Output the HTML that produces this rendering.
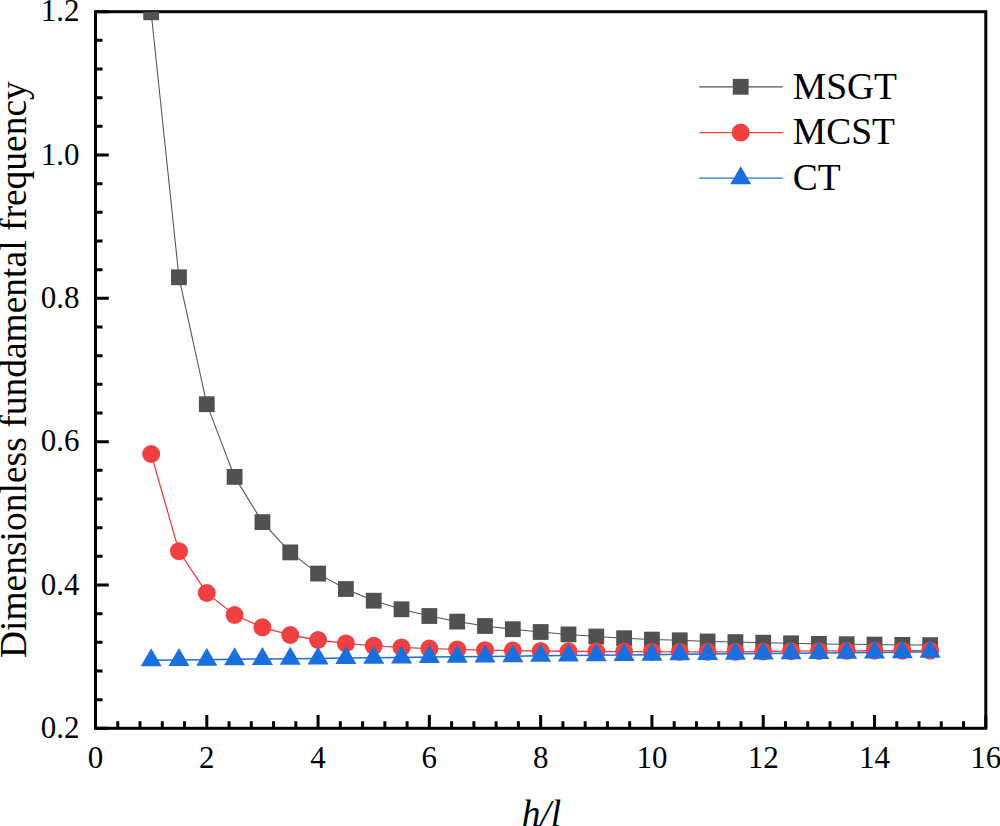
<!DOCTYPE html>
<html><head><meta charset="utf-8"><style>
html,body{margin:0;padding:0;background:#fff;width:1000px;height:826px;overflow:hidden}
svg{display:block}
.t{font-family:"Liberation Serif",serif;font-size:31px;fill:#000}
.l{font-family:"Liberation Serif",serif;font-size:37.5px;fill:#000}
</style></head><body>
<svg width="1000" height="826" viewBox="0 0 1000 826">
<defs><clipPath id="c"><rect x="95.50" y="11.70" width="890.30" height="716.60"/></clipPath></defs>
<path d="M95.50,728.30 V715.00 M117.76,728.30 V721.30 M140.01,728.30 V721.30 M162.27,728.30 V721.30 M184.53,728.30 V721.30 M206.79,728.30 V715.00 M229.05,728.30 V721.30 M251.30,728.30 V721.30 M273.56,728.30 V721.30 M295.82,728.30 V721.30 M318.07,728.30 V715.00 M340.33,728.30 V721.30 M362.59,728.30 V721.30 M384.85,728.30 V721.30 M407.11,728.30 V721.30 M429.36,728.30 V715.00 M451.62,728.30 V721.30 M473.88,728.30 V721.30 M496.13,728.30 V721.30 M518.39,728.30 V721.30 M540.65,728.30 V715.00 M562.91,728.30 V721.30 M585.16,728.30 V721.30 M607.42,728.30 V721.30 M629.68,728.30 V721.30 M651.94,728.30 V715.00 M674.19,728.30 V721.30 M696.45,728.30 V721.30 M718.71,728.30 V721.30 M740.97,728.30 V721.30 M763.22,728.30 V715.00 M785.48,728.30 V721.30 M807.74,728.30 V721.30 M830.00,728.30 V721.30 M852.25,728.30 V721.30 M874.51,728.30 V715.00 M896.77,728.30 V721.30 M919.03,728.30 V721.30 M941.28,728.30 V721.30 M963.54,728.30 V721.30 M985.80,728.30 V715.00 M95.50,728.30 H108.80 M95.50,699.64 H102.50 M95.50,670.97 H102.50 M95.50,642.31 H102.50 M95.50,613.64 H102.50 M95.50,584.98 H108.80 M95.50,556.32 H102.50 M95.50,527.65 H102.50 M95.50,498.99 H102.50 M95.50,470.32 H102.50 M95.50,441.66 H108.80 M95.50,413.00 H102.50 M95.50,384.33 H102.50 M95.50,355.67 H102.50 M95.50,327.00 H102.50 M95.50,298.34 H108.80 M95.50,269.68 H102.50 M95.50,241.01 H102.50 M95.50,212.35 H102.50 M95.50,183.68 H102.50 M95.50,155.02 H108.80 M95.50,126.36 H102.50 M95.50,97.69 H102.50 M95.50,69.03 H102.50 M95.50,40.36 H102.50 M95.50,11.70 H108.80" stroke="#000" stroke-width="3" fill="none"/>
<rect x="95.50" y="11.70" width="890.30" height="716.60" fill="none" stroke="#000" stroke-width="3"/>
<g clip-path="url(#c)">
<path d="M151.14,12.30 L178.97,277.30 L206.79,404.20 L234.61,476.90 L262.43,522.10 L290.25,552.40 L318.07,573.60 L345.90,589.00 L373.72,600.70 L401.54,609.30 L429.36,616.00 L457.18,621.60 L485.01,626.00 L512.83,629.20 L540.65,632.00 L568.47,634.40 L596.29,636.50 L624.12,638.20 L651.94,639.60 L679.76,640.30 L707.58,641.50 L735.40,642.10 L763.22,642.70 L791.05,643.30 L818.87,643.90 L846.69,644.20 L874.51,644.60 L902.33,644.90 L930.16,645.10" fill="none" stroke="#515151" stroke-width="1.05"/>
<path d="M151.14,454.00 L178.97,551.20 L206.79,593.00 L234.61,615.00 L262.43,627.30 L290.25,635.00 L318.07,640.00 L345.90,643.40 L373.72,645.80 L401.54,647.40 L429.36,648.60 L457.18,649.40 L485.01,650.20 L512.83,650.60 L540.65,651.00 L568.47,651.25 L596.29,651.50 L624.12,651.60 L651.94,651.70 L679.76,651.78 L707.58,651.85 L735.40,651.80 L763.22,651.50 L791.05,651.20 L818.87,650.90 L846.69,650.80 L874.51,650.75 L902.33,650.70 L930.16,650.65" fill="none" stroke="#F14040" stroke-width="1.3"/>
<path d="M151.14,660.28 L178.97,659.96 L206.79,659.65 L234.61,659.33 L262.43,659.02 L290.25,658.70 L318.07,658.38 L345.90,658.07 L373.72,657.75 L401.54,657.44 L429.36,657.12 L457.18,656.81 L485.01,656.49 L512.83,656.18 L540.65,655.87 L568.47,655.57 L596.29,655.26 L624.12,654.96 L651.94,654.66 L679.76,654.36 L707.58,654.07 L735.40,653.78 L763.22,653.50 L791.05,653.21 L818.87,652.93 L846.69,652.66 L874.51,652.39 L902.33,652.13 L930.16,651.87" fill="none" stroke="#1A6FDF" stroke-width="1.5"/>
<rect x="143.24" y="4.40" width="15.8" height="15.8" fill="#515151"/>
<rect x="171.07" y="269.40" width="15.8" height="15.8" fill="#515151"/>
<rect x="198.89" y="396.30" width="15.8" height="15.8" fill="#515151"/>
<rect x="226.71" y="469.00" width="15.8" height="15.8" fill="#515151"/>
<rect x="254.53" y="514.20" width="15.8" height="15.8" fill="#515151"/>
<rect x="282.35" y="544.50" width="15.8" height="15.8" fill="#515151"/>
<rect x="310.18" y="565.70" width="15.8" height="15.8" fill="#515151"/>
<rect x="338.00" y="581.10" width="15.8" height="15.8" fill="#515151"/>
<rect x="365.82" y="592.80" width="15.8" height="15.8" fill="#515151"/>
<rect x="393.64" y="601.40" width="15.8" height="15.8" fill="#515151"/>
<rect x="421.46" y="608.10" width="15.8" height="15.8" fill="#515151"/>
<rect x="449.28" y="613.70" width="15.8" height="15.8" fill="#515151"/>
<rect x="477.11" y="618.10" width="15.8" height="15.8" fill="#515151"/>
<rect x="504.93" y="621.30" width="15.8" height="15.8" fill="#515151"/>
<rect x="532.75" y="624.10" width="15.8" height="15.8" fill="#515151"/>
<rect x="560.57" y="626.50" width="15.8" height="15.8" fill="#515151"/>
<rect x="588.39" y="628.60" width="15.8" height="15.8" fill="#515151"/>
<rect x="616.22" y="630.30" width="15.8" height="15.8" fill="#515151"/>
<rect x="644.04" y="631.70" width="15.8" height="15.8" fill="#515151"/>
<rect x="671.86" y="632.40" width="15.8" height="15.8" fill="#515151"/>
<rect x="699.68" y="633.60" width="15.8" height="15.8" fill="#515151"/>
<rect x="727.50" y="634.20" width="15.8" height="15.8" fill="#515151"/>
<rect x="755.32" y="634.80" width="15.8" height="15.8" fill="#515151"/>
<rect x="783.15" y="635.40" width="15.8" height="15.8" fill="#515151"/>
<rect x="810.97" y="636.00" width="15.8" height="15.8" fill="#515151"/>
<rect x="838.79" y="636.30" width="15.8" height="15.8" fill="#515151"/>
<rect x="866.61" y="636.70" width="15.8" height="15.8" fill="#515151"/>
<rect x="894.43" y="637.00" width="15.8" height="15.8" fill="#515151"/>
<rect x="922.26" y="637.20" width="15.8" height="15.8" fill="#515151"/>
<circle cx="151.14" cy="454.00" r="9" fill="#F14040"/>
<circle cx="178.97" cy="551.20" r="9" fill="#F14040"/>
<circle cx="206.79" cy="593.00" r="9" fill="#F14040"/>
<circle cx="234.61" cy="615.00" r="9" fill="#F14040"/>
<circle cx="262.43" cy="627.30" r="9" fill="#F14040"/>
<circle cx="290.25" cy="635.00" r="9" fill="#F14040"/>
<circle cx="318.07" cy="640.00" r="9" fill="#F14040"/>
<circle cx="345.90" cy="643.40" r="9" fill="#F14040"/>
<circle cx="373.72" cy="645.80" r="9" fill="#F14040"/>
<circle cx="401.54" cy="647.40" r="9" fill="#F14040"/>
<circle cx="429.36" cy="648.60" r="9" fill="#F14040"/>
<circle cx="457.18" cy="649.40" r="9" fill="#F14040"/>
<circle cx="485.01" cy="650.20" r="9" fill="#F14040"/>
<circle cx="512.83" cy="650.60" r="9" fill="#F14040"/>
<circle cx="540.65" cy="651.00" r="9" fill="#F14040"/>
<circle cx="568.47" cy="651.25" r="9" fill="#F14040"/>
<circle cx="596.29" cy="651.50" r="9" fill="#F14040"/>
<circle cx="624.12" cy="651.60" r="9" fill="#F14040"/>
<circle cx="651.94" cy="651.70" r="9" fill="#F14040"/>
<circle cx="679.76" cy="651.78" r="9" fill="#F14040"/>
<circle cx="707.58" cy="651.85" r="9" fill="#F14040"/>
<circle cx="735.40" cy="651.80" r="9" fill="#F14040"/>
<circle cx="763.22" cy="651.50" r="9" fill="#F14040"/>
<circle cx="791.05" cy="651.20" r="9" fill="#F14040"/>
<circle cx="818.87" cy="650.90" r="9" fill="#F14040"/>
<circle cx="846.69" cy="650.80" r="9" fill="#F14040"/>
<circle cx="874.51" cy="650.75" r="9" fill="#F14040"/>
<circle cx="902.33" cy="650.70" r="9" fill="#F14040"/>
<circle cx="930.16" cy="650.65" r="9" fill="#F14040"/>
<path d="M151.14,648.28 L161.64,666.28 L140.64,666.28 Z" fill="#1A6FDF"/>
<path d="M178.97,647.96 L189.47,665.96 L168.47,665.96 Z" fill="#1A6FDF"/>
<path d="M206.79,647.65 L217.29,665.65 L196.29,665.65 Z" fill="#1A6FDF"/>
<path d="M234.61,647.33 L245.11,665.33 L224.11,665.33 Z" fill="#1A6FDF"/>
<path d="M262.43,647.02 L272.93,665.02 L251.93,665.02 Z" fill="#1A6FDF"/>
<path d="M290.25,646.70 L300.75,664.70 L279.75,664.70 Z" fill="#1A6FDF"/>
<path d="M318.07,646.38 L328.57,664.38 L307.57,664.38 Z" fill="#1A6FDF"/>
<path d="M345.90,646.07 L356.40,664.07 L335.40,664.07 Z" fill="#1A6FDF"/>
<path d="M373.72,645.75 L384.22,663.75 L363.22,663.75 Z" fill="#1A6FDF"/>
<path d="M401.54,645.44 L412.04,663.44 L391.04,663.44 Z" fill="#1A6FDF"/>
<path d="M429.36,645.12 L439.86,663.12 L418.86,663.12 Z" fill="#1A6FDF"/>
<path d="M457.18,644.81 L467.68,662.81 L446.68,662.81 Z" fill="#1A6FDF"/>
<path d="M485.01,644.49 L495.51,662.49 L474.51,662.49 Z" fill="#1A6FDF"/>
<path d="M512.83,644.18 L523.33,662.18 L502.33,662.18 Z" fill="#1A6FDF"/>
<path d="M540.65,643.87 L551.15,661.87 L530.15,661.87 Z" fill="#1A6FDF"/>
<path d="M568.47,643.57 L578.97,661.57 L557.97,661.57 Z" fill="#1A6FDF"/>
<path d="M596.29,643.26 L606.79,661.26 L585.79,661.26 Z" fill="#1A6FDF"/>
<path d="M624.12,642.96 L634.62,660.96 L613.62,660.96 Z" fill="#1A6FDF"/>
<path d="M651.94,642.66 L662.44,660.66 L641.44,660.66 Z" fill="#1A6FDF"/>
<path d="M679.76,642.36 L690.26,660.36 L669.26,660.36 Z" fill="#1A6FDF"/>
<path d="M707.58,642.07 L718.08,660.07 L697.08,660.07 Z" fill="#1A6FDF"/>
<path d="M735.40,641.78 L745.90,659.78 L724.90,659.78 Z" fill="#1A6FDF"/>
<path d="M763.22,641.50 L773.72,659.50 L752.72,659.50 Z" fill="#1A6FDF"/>
<path d="M791.05,641.21 L801.55,659.21 L780.55,659.21 Z" fill="#1A6FDF"/>
<path d="M818.87,640.93 L829.37,658.93 L808.37,658.93 Z" fill="#1A6FDF"/>
<path d="M846.69,640.66 L857.19,658.66 L836.19,658.66 Z" fill="#1A6FDF"/>
<path d="M874.51,640.39 L885.01,658.39 L864.01,658.39 Z" fill="#1A6FDF"/>
<path d="M902.33,640.13 L912.83,658.13 L891.83,658.13 Z" fill="#1A6FDF"/>
<path d="M930.16,639.87 L940.66,657.87 L919.66,657.87 Z" fill="#1A6FDF"/>
</g>
<text x="79.5" y="737.90" text-anchor="end" class="t">0.2</text>
<text x="79.5" y="594.58" text-anchor="end" class="t">0.4</text>
<text x="79.5" y="451.26" text-anchor="end" class="t">0.6</text>
<text x="79.5" y="307.94" text-anchor="end" class="t">0.8</text>
<text x="79.5" y="164.62" text-anchor="end" class="t">1.0</text>
<text x="79.5" y="21.30" text-anchor="end" class="t">1.2</text>
<text x="95.50" y="768" text-anchor="middle" class="t">0</text>
<text x="206.79" y="768" text-anchor="middle" class="t">2</text>
<text x="318.07" y="768" text-anchor="middle" class="t">4</text>
<text x="429.36" y="768" text-anchor="middle" class="t">6</text>
<text x="540.65" y="768" text-anchor="middle" class="t">8</text>
<text x="651.94" y="768" text-anchor="middle" class="t">10</text>
<text x="763.22" y="768" text-anchor="middle" class="t">12</text>
<text x="874.51" y="768" text-anchor="middle" class="t">14</text>
<text x="985.80" y="768" text-anchor="middle" class="t">16</text>
<text x="541.5" y="826" text-anchor="middle" class="l" font-style="italic">h/l</text>
<text transform="translate(25.6,369.6) rotate(-90)" text-anchor="middle" class="l">Dimensionless fundamental frequency</text>
<line x1="699.2" x2="782.7" y1="86.8" y2="86.8" stroke="#515151" stroke-width="1.2"/>
<rect x="732.8" y="78.90" width="15.8" height="15.8" fill="#515151"/>
<line x1="699.2" x2="782.7" y1="132.6" y2="132.6" stroke="#F14040" stroke-width="1.2"/>
<circle cx="740.7" cy="132.60" r="9" fill="#F14040"/>
<line x1="699.2" x2="782.7" y1="178.2" y2="178.2" stroke="#1A6FDF" stroke-width="1.2"/>
<path d="M740.70,166.30 L751.20,184.30 L730.20,184.30 Z" fill="#1A6FDF"/>
<text x="792.8" y="99.2" class="l">MSGT</text>
<text x="792.8" y="143.6" class="l">MCST</text>
<text x="792.8" y="189.9" class="l">CT</text>
</svg>
</body></html>
